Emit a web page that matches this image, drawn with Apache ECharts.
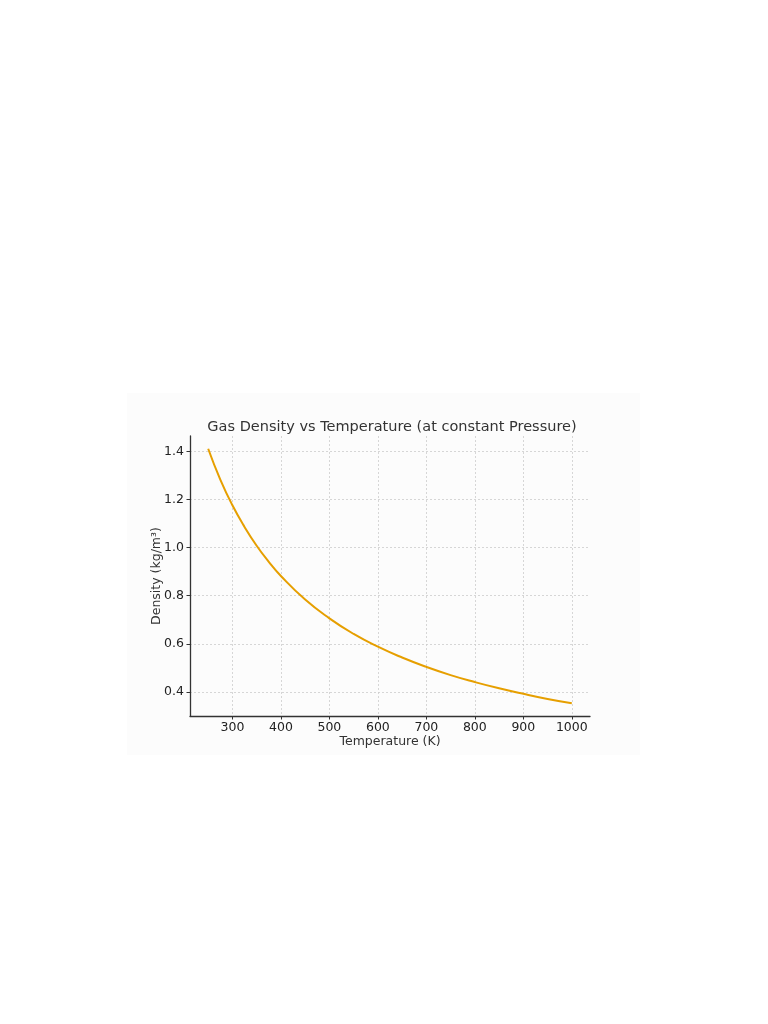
<!DOCTYPE html>
<html lang="en">
<head>
<meta charset="utf-8">
<title>Gas Density vs Temperature</title>
<style>
  html, body { margin: 0; padding: 0; background: #fff; }
  #chart { width: 768px; height: 1024px; }
</style>
</head>
<body>
<div id="chart"></div>
<script src="https://cdn.jsdelivr.net/npm/echarts@6/dist/echarts.min.js"></script>
<script>
// temperatures (K) and densities (kg/m3)
var temps = [250, 275, 300, 325, 350, 375, 400, 450, 500, 550, 600, 650, 700, 750, 800, 850, 900, 950, 1000];
var density = [1.411, 1.283, 1.176, 1.086, 1.008, 0.941, 0.882, 0.784, 0.706, 0.641, 0.588, 0.543, 0.504, 0.470, 0.441, 0.415, 0.392, 0.371, 0.353];

var points = [];
for (var i = 0; i < temps.length; i++) {
  points.push([temps[i], density[i]]);
}

var font = 'DejaVu Sans';
var chart = echarts.init(document.getElementById('chart'));
var option = {
  backgroundColor: '#ffffff',
  animation: false,
  graphic: [{
    type: 'rect', z: -10,
    shape: { x: 127, y: 393, width: 513, height: 362 },
    style: { fill: '#fcfcfc' }
  }],
  title: {
    text: 'Gas Density vs Temperature (at constant Pressure)',
    left: 387, textAlign: 'center', top: 415,
    textStyle: { fontFamily: font, fontSize: 14.5, fontWeight: 'normal', color: '#333' }
  },
  grid: { left: 190, right: 178, top: 436, bottom: 308, containLabel: false },
  xAxis: {
    type: 'value',
    min: 212.5, max: 1037.5, splitNumber: 8,
    name: 'Temperature (K)', nameLocation: 'middle', nameGap: 19, nameMoveOverlap: false,
    nameTextStyle: { fontFamily: font, fontSize: 12.5, color: '#333' },
    axisLine: { show: true, onZero: false, lineStyle: { color: '#333', width: 1.3 } },
    axisTick: { show: true, length: 3.5, lineStyle: { color: '#333' } },
    axisLabel: { showMinLabel: false, showMaxLabel: false, margin: 5,
      fontFamily: font, fontSize: 12.5, color: '#222',
      formatter: function (v) { return String(v); } },
    splitLine: { show: true, showMinLine: false, showMaxLine: false,
      lineStyle: { color: '#cccccc', type: [2, 2], width: 0.8 } }
  },
  yAxis: {
    type: 'value',
    min: 0.2999, max: 1.4641, splitNumber: 6,
    name: 'Density (kg/m³)', nameLocation: 'middle', nameGap: 27, nameMoveOverlap: false,
    nameTextStyle: { fontFamily: font, fontSize: 12.5, color: '#333' },
    axisLine: { show: true, onZero: false, lineStyle: { color: '#333', width: 1.3 } },
    axisTick: { show: true, length: 3.5, lineStyle: { color: '#333' } },
    axisLabel: { showMinLabel: false, showMaxLabel: false, margin: 6,
      fontFamily: font, fontSize: 12.5, color: '#222',
      formatter: function (v) { return v.toFixed(1); } },
    splitLine: { show: true, showMinLine: false, showMaxLine: false,
      lineStyle: { color: '#cccccc', type: [2, 2], width: 0.8 } }
  },
  series: [{
    type: 'line',
    data: points,
    smooth: true,
    showSymbol: false,
    lineStyle: { color: '#e69f00', width: 2 }
  }]
};
chart.setOption(option);
</script>
</body>
</html>
